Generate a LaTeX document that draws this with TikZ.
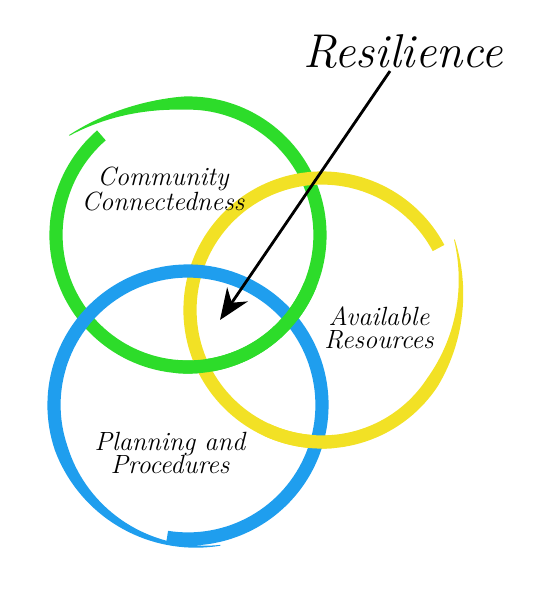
\documentclass[tikz,border=0pt]{standalone}
\usepackage{tikz}
\usetikzlibrary{arrows.meta}

\definecolor{ringgreen}{HTML}{2DDC2A}
\definecolor{ringyellow}{HTML}{F2E125}
\definecolor{ringblue}{HTML}{1F9EEE}

% brush ring: colour, cx, cy, radius, start angle, end angle, tail overshoot, taper part
\newcommand{\brushring}[8]{%
  \fill[#1] plot[domain=#5:#6, samples=160, variable=\t]
    ({#2+(#4+#7*bo((\t-#5)/(#6-#5),#8)+bw((\t-#5)/(#6-#5),#8))*cos(\t)},
     {#3+(#4+#7*bo((\t-#5)/(#6-#5),#8)+bw((\t-#5)/(#6-#5),#8))*sin(\t)})
  -- plot[domain=#6:#5, samples=160, variable=\t]
    ({#2+(#4+#7*bo((\t-#5)/(#6-#5),#8)-bw((\t-#5)/(#6-#5),#8))*cos(\t)},
     {#3+(#4+#7*bo((\t-#5)/(#6-#5),#8)-bw((\t-#5)/(#6-#5),#8))*sin(\t)})
  -- cycle;}

\begin{document}
\begin{tikzpicture}[
    x=0.02cm, y=0.02cm,
    declare function={bw(\u,\s)=6.2*min(1,(1-\u)/\s)+0.4;
                      bo(\u,\s)=max(0,(\u-1+\s)/\s)*max(0,(\u-1+\s)/\s);},
    label/.style={font=\fontsize{15}{13.5}\selectfont\itshape, align=center, inner sep=1pt},
    title/.style={font=\fontsize{27}{30}\selectfont\itshape, inner sep=1pt},
    arrow/.style={-{Stealth[length=0.62cm, width=0.5cm]}, line width=1.6pt},
    patch/.style={line width=0.264cm}
]
\useasboundingbox (0,0) rectangle (560,600);

% Rings
\brushring{ringgreen}{188}{365}{132}{131}{500}{23}{0.13}
\brushring{ringyellow}{322}{290}{132}{-332}{28}{18}{0.17}
\brushring{ringblue}{188}{195}{134}{-99}{283}{10}{0.22}

% Crossings where the lower ring comes back on top
\draw[ringgreen, patch] plot[domain=-95:-22, samples=40] ({188+132*cos(\x)},{365+132*sin(\x)});
\draw[ringyellow, patch] plot[domain=-115:-85, samples=20] ({322+132*cos(\x)},{290+132*sin(\x)});

% Texts
\node[title] (title) at (403,548) {Resilience};
\node[label] (community) at (163,411) {Community\\Connectedness};
\node[label] (resources) at (379,272) {Available\\Resources};
\node[label] (planning) at (170,147) {Planning and\\Procedures};

% Arrow
\coordinate (core) at (220,280);
\draw[arrow] ([xshift=-0.26cm]title.south) -- (core);

\end{tikzpicture}
\end{document}
